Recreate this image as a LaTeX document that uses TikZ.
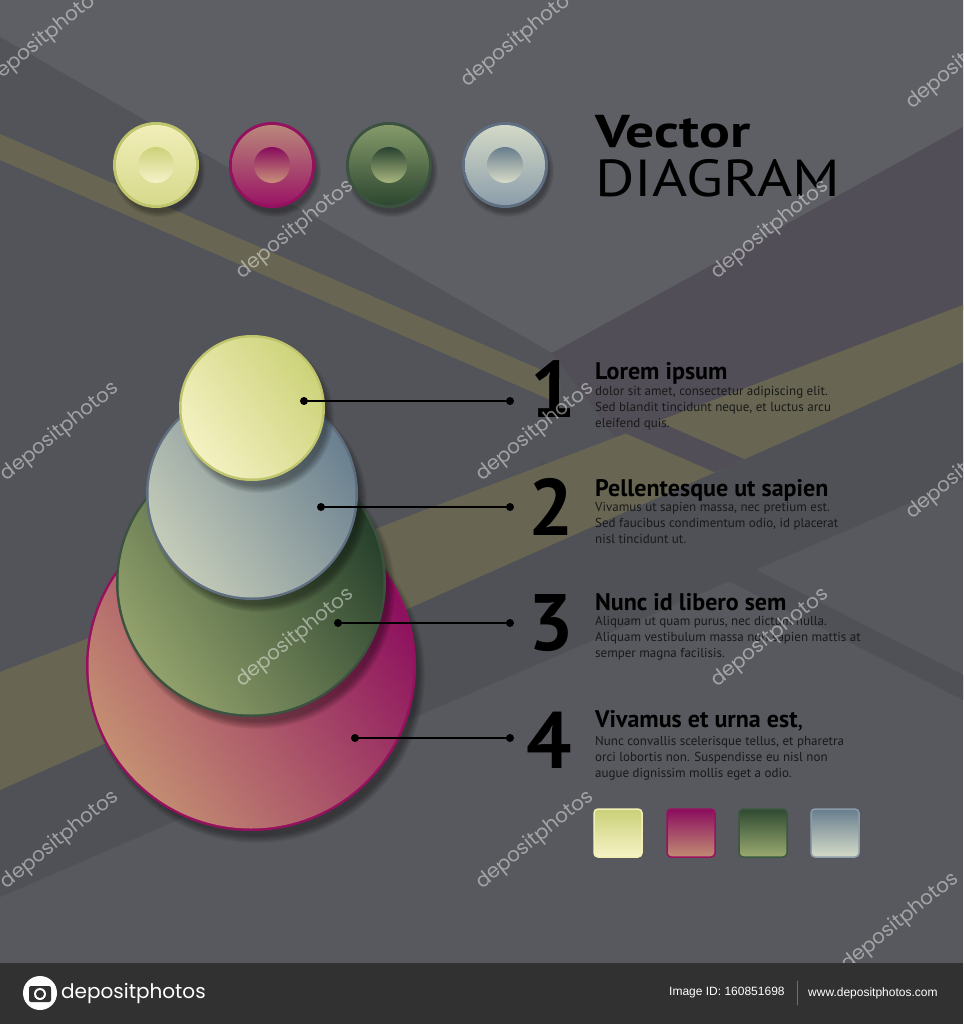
\documentclass[tikz,border=0pt]{standalone}
\usepackage{fontspec}
\setmainfont{PT Sans}
\newfontfamily\logofont{Poppins}
\newfontfamily\footfont{Liberation Sans}
\usetikzlibrary{calc,positioning}

% background
\definecolor{bgmid}{HTML}{58595E}
\definecolor{bgtop}{HTML}{5E5F64}
\definecolor{bgleft}{HTML}{535459}
\definecolor{bgdark}{HTML}{505156}
\definecolor{bgplum}{HTML}{524E57}
\definecolor{khaki}{HTML}{686652}
\definecolor{footbar}{HTML}{313131}
% disc colours
\definecolor{ylite}{HTML}{F4F1C2}
\definecolor{ydark}{HTML}{CDD37A}
\definecolor{yrim}{HTML}{BFC56C}
\definecolor{mlite}{HTML}{C48F72}
\definecolor{mdark}{HTML}{8C0E5E}
\definecolor{mrim}{HTML}{95115F}
\definecolor{glite}{HTML}{93A26C}
\definecolor{gdark}{HTML}{263F2B}
\definecolor{grim}{HTML}{3B5240}
\definecolor{blite}{HTML}{C4CBB8}
\definecolor{bdark}{HTML}{6A8090}
\definecolor{brim}{HTML}{5F6E80}

\tikzset{
  dot/.style={circle,fill=black,inner sep=0pt,minimum size=8pt},
  link/.style={line width=1.8pt,black},
  bignum/.style={anchor=base west,inner sep=0pt,font=\fontsize{80}{80}\selectfont\bfseries},
  head/.style={anchor=base west,inner sep=0pt,font=\fontsize{24}{26}\selectfont\bfseries},
  body/.style={anchor=north west,inner sep=0pt,align=left,text=black!90,
    font=\fontsize{13}{16}\selectfont},
  swatch/.style={rounded corners=4pt,line width=1.5pt},
  wmark/.style={white,opacity=0.45,rotate=39,inner sep=0pt,
    font=\logofont\fontsize{20}{20}\selectfont},
  foot/.style={text=white!88,inner sep=0pt,font=\footfont\fontsize{12}{12}\selectfont}
}

\begin{document}
\begin{tikzpicture}[x=1pt,y=-1pt,line cap=round,line join=round]
  \useasboundingbox (0,0) rectangle (963,1024);

  % Background and bands
  \fill[bgmid] (0,0) rectangle (963,963);
  \fill[bgtop] (0,0) -- (963,0) -- (963,127) -- (552,353) -- (0,37) -- cycle;
  \fill[bgleft] (0,37) -- (552,353) -- (700,405) -- (0,672) -- cycle;
  \fill[bgplum] (552,353) -- (963,127) -- (963,310) -- (640,470) -- cycle;
  \fill[bgdark] (963,362) -- (963,480) -- (0,897) -- (0,790) -- cycle;
  \fill[bgdark] (540,460) -- (963,675) -- (963,700) -- (540,485) -- cycle;
  \fill[khaki] (0,134) -- (560,378) -- (560,404) -- (0,160) -- cycle;
  \fill[khaki] (963,305) -- (963,362) -- (0,790) -- (0,672) -- cycle;
  \begin{scope}
    \clip (963,305) -- (963,362) -- (0,790) -- (0,672) -- cycle;
    \fill[bgplum] (540,370) -- (760,466) -- (760,492) -- (540,396) -- cycle;
  \end{scope}

  % Small buttons
  \foreach \bx/\rim/\ftop/\fbot/\itop/\ibot in {
      156/yrim/F1EEB8/D6DA8C/CDD17A/F6F3CA,
      272/mrim/B9877A/9A1565/880C5D/C9917A,
      389/grim/85996A/2D4830/294330/A8B67E,
      505/brim/D3D9C7/8C9EAA/687D8C/D8DCC9} {
    \foreach \k in {1,...,6}
      \fill[black,opacity=0.06] (\bx+3,171) circle (40+\k);
    \fill[\rim] (\bx,165) circle (43);
    \definecolor{ft}{HTML}{\ftop}\definecolor{fb}{HTML}{\fbot}
    \definecolor{it}{HTML}{\itop}\definecolor{ib}{HTML}{\ibot}
    \shade[top color=ft,bottom color=fb] (\bx,165) circle (40);
    \shade[top color=it,bottom color=ib] (\bx,165) circle (18);
  }

  % Title
  \node[anchor=base west,inner sep=0pt,xscale=1.25,
    font=\fontsize{46}{46}\selectfont\bfseries] (ttl) at (595,148) {Vector};
  \node[anchor=base west,inner sep=0pt,xscale=1.16,
    font=\fontsize{52}{52}\selectfont] (sub) at (595,197) {DIAGRAM};

  % Stacked discs, bottom to top
  \foreach \cx/\cy/\r/\rim/\lite/\dark in {
      251/666/165/mrim/mlite/mdark,
      251/582/135/grim/glite/gdark,
      252/494/106/brim/blite/bdark,
      252/408/73/yrim/ylite/ydark} {
    \foreach \k in {1,...,8}
      \fill[black,opacity=0.05] (\cx+6,\cy+9) circle (\r+\k-5);
    \fill[\rim] (\cx,\cy) circle (\r);
    \shade[top color=\dark,bottom color=\lite,shading angle=-55]
      (\cx,\cy) circle (\r-2.5);
  }

  % Pointers
  \foreach \i/\px/\py in {1/304/401,2/321/507,3/338/623,4/355/738} {
    \node[dot] (p\i) at (\px,\py) {};
    \node[dot] (q\i) at (510,\py) {};
    \draw[link] (p\i) -- (q\i);
  }

  % Numbers, headings, text
  \node[bignum] (n1) at (530,417) {1};
  \node[bignum] (n2) at (528,535) {2};
  \node[bignum] (n3) at (528,650) {3};
  \node[bignum] (n4) at (526,768) {4};

  \node[head] (h1) at (595,379) {Lorem ipsum};
  \node[body] (t1) at (595,386) {dolor sit amet, consectetur adipiscing elit.\\
    Sed blandit tincidunt neque, et luctus arcu\\eleifend quis.};
  \node[head] (h2) at (595,496) {Pellentesque ut sapien};
  \node[body] (t2) at (595,502) {Vivamus ut sapien massa, nec pretium est.\\
    Sed faucibus condimentum odio, id placerat\\nisl tincidunt ut.};
  \node[head] (h3) at (595,610) {Nunc id libero sem};
  \node[body] (t3) at (595,616) {Aliquam ut quam purus, nec dictum nulla.\\
    Aliquam vestibulum massa non sapien mattis at\\semper magna facilisis.};
  \node[head] (h4) at (595,727) {Vivamus et urna est\mdseries,};
  \node[body] (t4) at (595,736) {Nunc convallis scelerisque tellus, et pharetra\\
    orci lobortis non. Suspendisse eu nisl non\\augue dignissim mollis eget a odio.};

  % Colour swatches
  \foreach \sx/\edge/\stop/\sbot in {
      594/F2F0B6/C9D078/F7F3C6,
      667/9A1060/8A0D5E/C28C73,
      739/3A5840/2F4A32/9AAA70,
      811/8C9CAC/687E8E/D5DBC9} {
    \definecolor{se}{HTML}{\edge}\definecolor{st}{HTML}{\stop}\definecolor{sb}{HTML}{\sbot}
    \shade[swatch,top color=st,bottom color=sb,draw=se]
      (\sx,809) rectangle ++(48,48);
  }

  % Watermarks
  \foreach \wx/\wy in {45/38,520/38,965/60,295/230,770/230,60/432,535/432,
      965/470,295/638,770/638,60/840,535/840,900/922}
    \node[wmark] at (\wx,\wy) {depositphotos};

  % Footer
  \fill[footbar] (0,963) rectangle (963,1024);
  \node[circle,fill=white,minimum size=34pt,inner sep=0pt] (logo) at (40,993) {};
  \fill[footbar,rounded corners=2pt] (29,986) rectangle (51,1002);
  \fill[white] (40,994) circle (6);
  \fill[footbar] (40,994) circle (4);
  \node[anchor=west,inner sep=0pt,text=white,font=\logofont\fontsize{20}{20}\selectfont]
    (brand) at (61,993) {depositphotos};
  \node[foot,anchor=west] (imgid) at (669,993) {Image ID: 160851698};
  \draw[white!30!footbar,line width=0.8pt] (797,981) -- (797,1005);
  \node[foot,anchor=west] (site) at (808,993) {www.depositphotos.com};
\end{tikzpicture}
\end{document}
